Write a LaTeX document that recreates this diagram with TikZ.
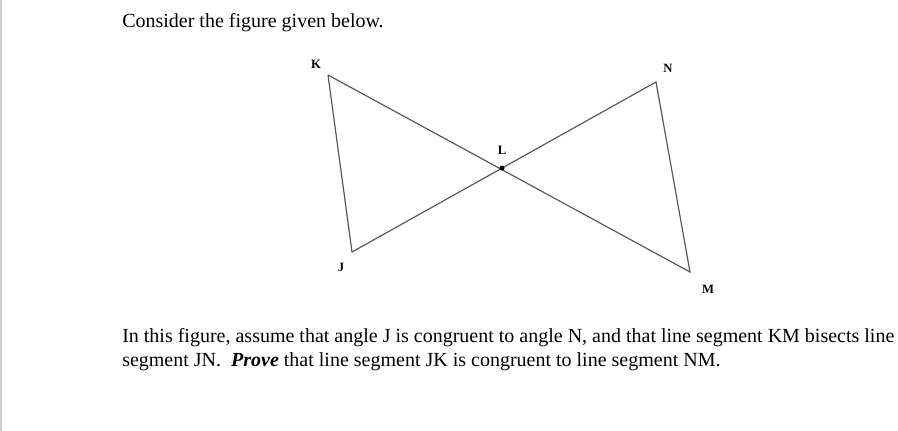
\documentclass[tikz,border=0pt]{standalone}
\usepackage{fontspec}
\setmainfont{Liberation Serif}
\usetikzlibrary{positioning}
\begin{document}
\begin{tikzpicture}[x=0.75pt,y=-0.75pt,
    pt/.style={inner sep=0pt,minimum size=0pt},
    lbl/.style={font=\fontsize{9.5}{11}\selectfont\bfseries,inner sep=0pt},
    txt/.style={font=\fontsize{15}{18}\selectfont,inner sep=0pt,anchor=base west}]
        \useasboundingbox (0,0) rectangle (898,431);
        \draw[gray!40,line width=1.5pt] (1,0) -- (1,431);
        \node[txt] (title) at (122,28) {Consider the figure given below.};
        \coordinate (K) at (328,75);
        \coordinate (J) at (352,252);
        \coordinate (L) at (502,168);
        \coordinate (N) at (656,82);
        \coordinate (M) at (690,272);
        \draw[gray!70!black,line width=0.9pt] (K) -- (J) -- (N) -- (M) -- (K);
        \fill (L) circle (2.5);
        \node[lbl] (lK) at (316,64) {K};
        \node[lbl] (lJ) at (341,267) {J};
        \node[lbl] (lL) at (502,150) {L};
        \node[lbl] (lN) at (668,68) {N};
        \node[lbl] (lM) at (708,289) {M};
        \node[txt] (line1) at (122,342) {In this figure, assume that angle J is congruent to angle N, and that line segment KM bisects line};
        \node[txt] (line2) at (122,366) {segment JN.\ \ \textbf{\textit{Prove}} that line segment JK is congruent to line segment NM.};
    \end{tikzpicture}
\end{document}
